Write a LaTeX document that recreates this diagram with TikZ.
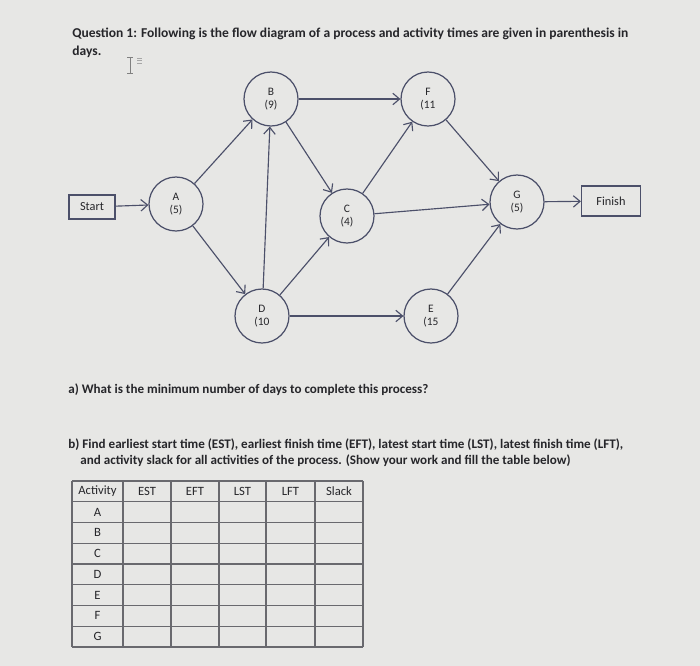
\documentclass[tikz,border=0pt]{standalone}
\usepackage{fontspec}
\setmainfont{Carlito}
\usetikzlibrary{positioning, arrows.meta}

\definecolor{paper}{RGB}{231,231,229}
\definecolor{ink}{RGB}{38,38,42}
\definecolor{edgeblue}{RGB}{76,80,106}
\definecolor{gridgray}{RGB}{105,105,110}

\begin{document}
\begin{tikzpicture}[x=0.02cm, y=-0.02cm, text=ink,
    >={Straight Barb[length=3.8pt, width=6.5pt]},
    qtext/.style={anchor=base west, inner sep=0pt, font=\fontsize{7.45}{8.5}\selectfont\bfseries},
    act/.style={circle, draw=edgeblue, line width=0.7pt, minimum size=1.08cm, inner sep=0pt,
        align=center, font=\fontsize{6.5}{7}\selectfont},
    endbox/.style={rectangle, draw=edgeblue, line width=0.7pt, inner sep=0pt,
        font=\fontsize{7}{8}\selectfont},
    flow/.style={->, draw=edgeblue, line width=0.65pt},
    cell/.style={inner sep=0pt, font=\fontsize{7.2}{8}\selectfont}]

% Paper
\fill[paper] (0,0) rectangle (700,666);

% Question text
\node[qtext, font=\fontsize{7.7}{8.5}\selectfont\bfseries] (qhead) at (72,37) {Question 1: Following is the flow diagram of a process and activity times are given in parenthesis in};
\node[qtext, font=\fontsize{7.7}{8.5}\selectfont\bfseries] (qdays) at (72,55) {days.};
\node[qtext] (qa) at (68,393) {a) What is the minimum number of days to complete this process?};
\node[qtext] (qb) at (68,448) {b) Find earliest start time (EST), earliest finish time (EFT), latest start time (LST), latest finish time (LFT),};
\node[qtext] (qbb) at (80,464) {and activity slack for all activities of the process. (Show your work and fill the table below)};

% Cursor mark
\draw[gray, line width=0.4pt] (130,57) -- (130,73) (127,57) -- (133,57) (127,73) -- (133,73);
\draw[gray!70, line width=0.3pt] (137,58) -- (142,58) (137,60.5) -- (142,60.5) (137,63) -- (142,63);

% Activities
\node[endbox, minimum width=0.92cm, minimum height=0.48cm] (start) at (92,207) {Start};
\node[act] (A) at (176,204) {A\\(5)};
\node[act] (B) at (271,99) {B\\(9)};
\node[act] (C) at (347,216) {C\\(4)};
\node[act] (D) at (262,316) {D\\(10};
\node[act] (F) at (428,99) {F\\(11};
\node[act] (E) at (431,316) {E\\(15};
\node[act] (G) at (517,202) {G\\(5)};
\node[endbox, minimum width=1.18cm, minimum height=0.6cm] (finish) at (611,201) {Finish};

% Precedences
\draw[flow] (start) -- (A);
\draw[flow] (A) -- (B);
\draw[flow] (A) -- (D);
\draw[flow] (B) -- (F);
\draw[flow] (B) -- (C);
\draw[flow] (D) -- (B);
\draw[flow] (D) -- (C);
\draw[flow] (D) -- (E);
\draw[flow] (C) -- (F);
\draw[flow] (C) -- (G);
\draw[flow] (F) -- (G);
\draw[flow] (E) -- (G);
\draw[flow] (G) -- (finish);

% Table grid
\foreach \x in {72,123,171,219,266,315,363}
    \draw[gridgray, line width=0.6pt] (\x,481) -- (\x,647);
\foreach \k in {0,...,8}
    \draw[gridgray, line width=0.6pt] (72,{481+20.75*\k}) -- (363,{481+20.75*\k});

% Table labels
\foreach \t/\x/\n in {Activity/97.5/hact, EST/147/hest, EFT/195/heft, LST/242.5/hlst, LFT/290.5/hlft, Slack/339/hslack}
    \node[cell] (\n) at (\x,491.4) {\t};
\foreach \a [count=\i] in {A,B,C,D,E,F,G}
    \node[cell] (row\a) at (97.5,{491.4+20.75*\i}) {\a};
\end{tikzpicture}
\end{document}
